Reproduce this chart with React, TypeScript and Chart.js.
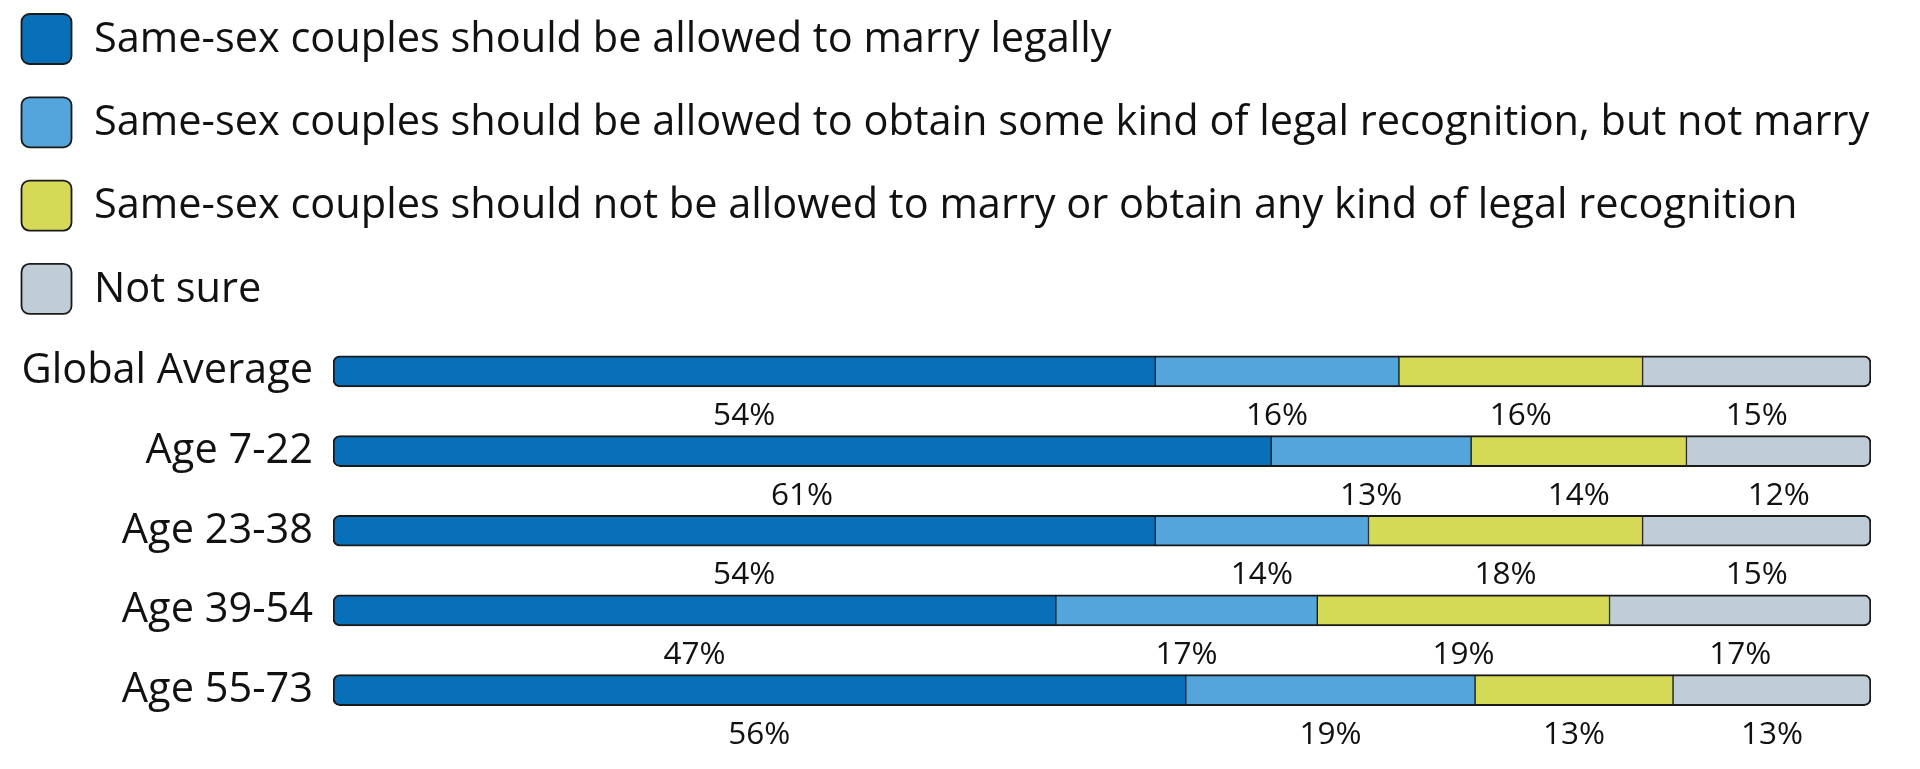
import React, { useEffect, useRef } from "react";
import { Chart, registerables } from "chart.js";

Chart.register(...registerables);

const categories = ["Global Average", "Age 7-22", "Age 23-38", "Age 39-54", "Age 55-73"];
const seriesLabels = [
  "Same-sex couples should be allowed to marry legally",
  "Same-sex couples should be allowed to obtain some kind of legal recognition, but not marry",
  "Same-sex couples should not be allowed to marry or obtain any kind of legal recognition",
  "Not sure",
];
const marry = [54, 61, 54, 47, 56];
const recognition = [16, 13, 14, 17, 19];
const notAllowed = [16, 14, 18, 19, 13];
const notSure = [15, 12, 15, 17, 13];
const colors = ["#0870b8", "#53a5db", "#d4da56", "#c0cdd6"];

const FONT = "'Open Sans', 'Noto Sans', sans-serif";
const BORDER = "#1a1a1a";

export default function App() {
  const ref = useRef<HTMLCanvasElement | null>(null);

  useEffect(() => {
    if (!ref.current) return;
    const raw = [marry, recognition, notAllowed, notSure];
    const sums = categories.map((_, i) => raw.reduce((s, arr) => s + arr[i], 0));
    const n = raw.length;

    const datasets = raw.map((arr, k) => ({
      label: seriesLabels[k],
      data: arr.map((v, i) => (v / sums[i]) * 100),
      rawValues: arr,
      backgroundColor: colors[k],
      borderColor: BORDER,
      borderWidth: {
        top: 2,
        bottom: 2,
        left: k === 0 ? 2 : 1,
        right: k === n - 1 ? 2 : 1,
      },
      borderSkipped: false,
      borderRadius:
        k === 0
          ? { topLeft: 7, bottomLeft: 7, topRight: 0, bottomRight: 0 }
          : k === n - 1
          ? { topLeft: 0, bottomLeft: 0, topRight: 7, bottomRight: 7 }
          : 0,
      barThickness: 31,
    }));

    const legendPlugin = {
      id: "stackLegend",
      afterDraw(chart: any) {
        const ctx = chart.ctx;
        ctx.save();
        const centers0 = 31;
        const pitch = 83.3;
        chart.data.datasets.forEach((ds: any, k: number) => {
          const cy = centers0 + k * pitch;
          const bx = 13.5, bw = 50, bh = 50;
          const by = cy - bh / 2;
          ctx.beginPath();
          ctx.roundRect(bx, by, bw, bh, 8);
          ctx.fillStyle = ds.backgroundColor;
          ctx.fill();
          ctx.lineWidth = 1.8;
          ctx.strokeStyle = BORDER;
          ctx.stroke();
          ctx.fillStyle = "#111";
          ctx.font = `41.5px ${FONT}`;
          ctx.textAlign = "left";
          ctx.textBaseline = "middle";
          ctx.fillText(ds.label, 86, cy + 1);
        });
        ctx.restore();
      },
    };

    const valuePlugin = {
      id: "valueLabels",
      afterDatasetsDraw(chart: any) {
        const ctx = chart.ctx;
        ctx.save();
        ctx.fillStyle = "#111";
        ctx.font = `31.5px ${FONT}`;
        ctx.textAlign = "center";
        ctx.textBaseline = "middle";
        chart.data.datasets.forEach((ds: any, k: number) => {
          const meta = chart.getDatasetMeta(k);
          meta.data.forEach((el: any, i: number) => {
            const cx = (el.x + el.base) / 2;
            ctx.fillText(`${ds.rawValues[i]}%`, cx, el.y + 44.5);
          });
        });
        ctx.restore();
      },
    };

    const chart = new Chart(ref.current, {
      type: "bar",
      data: { labels: categories, datasets: datasets as any },
      options: {
        animation: false,
        responsive: true,
        maintainAspectRatio: false,
        indexAxis: "y",
        layout: { padding: { top: 323.5, bottom: 31, left: 0, right: 41 } },
        plugins: {
          legend: { display: false },
          tooltip: { enabled: false },
        },
        scales: {
          x: { stacked: true, display: false, min: 0, max: 100 },
          y: {
            stacked: true,
            grid: { display: false, drawTicks: false },
            border: { display: false },
            ticks: {
              padding: 20,
              color: "#111",
              font: { family: FONT, size: 41.5 },
            },
            afterFit(scale: any) {
              scale.width = 325;
              scale.paddingTop = 0;
              scale.paddingBottom = 0;
            },
          },
        },
      },
      plugins: [legendPlugin, valuePlugin],
    });
    return () => chart.destroy();
  }, []);

  return (
    <div style={{ position: "relative", width: 1904, height: 753 }}>
      <canvas ref={ref} />
    </div>
  );
}
